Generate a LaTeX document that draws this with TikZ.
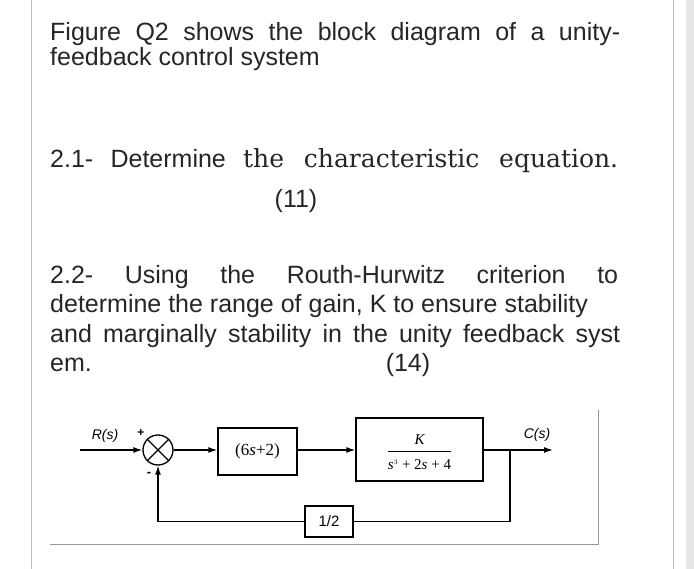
\documentclass[tikz,border=0pt]{standalone}
\usepackage{fontspec}
\setmainfont{Liberation Sans}
\newfontfamily\serifx{DejaVu Serif}
\newfontfamily\timesx{Liberation Serif}
\usetikzlibrary{arrows.meta}
\begin{document}
\begin{tikzpicture}[x=1pt,y=-1pt,
  txt/.style={anchor=base west,inner sep=0pt,font=\fontsize{25}{28}\selectfont,text=black!85},
  blk/.style={draw,line width=1.3pt,inner sep=0pt},
  sig/.style={line width=1.3pt,-{Latex[length=9pt,width=6pt]}},
  lbl/.style={font=\fontsize{13}{15}\selectfont,inner sep=0pt}]
\useasboundingbox (0,0) rectangle (694,569);
\fill[white] (0,0) rectangle (694,569);
\draw[black!25] (31,0) -- (31,569);
\draw[black!25] (673,0) -- (673,569);
\fill[black!10] (686,0) rectangle (694,569);
% text
\node[txt] (l1) at (50,41) {\makebox[570pt][s]{Figure Q2 shows the block diagram of a unity-}};
\node[txt] (l2) at (50,66) {feedback control system};
\node[txt] (l3) at (50,168) {\makebox[568pt][s]{2.1- Determine {\serifx the characteristic equation.}}};
\node[txt,anchor=base] (l4) at (296,208) {(11)};
\node[txt] (l5) at (50,284) {\makebox[568pt][s]{2.2- Using the Routh-Hurwitz criterion to}};
\node[txt] (l6) at (50,313) {determine the range of gain, K to ensure stability};
\node[txt] (l7) at (50,343) {\makebox[570pt][s]{and marginally stability in the unity feedback syst}};
\node[txt] (l8) at (50,372) {em.};
\node[txt,anchor=base] (l9) at (408,372) {(14)};
% diagram
\draw[black!40] (50,544) -- (598,544) -- (598,410);
\coordinate (in) at (80,450);
\node[draw,line width=1.3pt,circle,minimum size=30pt,inner sep=0pt] (sum) at (158,450) {};
\draw[line width=1.3pt] (sum.north west) -- (sum.south east) (sum.north east) -- (sum.south west);
\node[blk,minimum width=79pt,minimum height=47pt] (g1) at (257.5,451.5) {\timesx\fontsize{17}{19}\selectfont (6\textit{s}+2)};
\node[blk,minimum width=127pt,minimum height=63pt] (g2) at (419.5,449.5) {};
\node[lbl] (num) at (419.5,440) {\timesx\itshape\fontsize{15}{17}\selectfont K};
\draw[line width=0.8pt] (388,451) -- (451,451);
\node[lbl] (den) at (419.5,465) {\timesx\fontsize{15}{17}\selectfont \textit{s}$^{\scriptscriptstyle 3}$ + 2\textit{s} + 4};
\node[blk,minimum width=48pt,minimum height=31pt] (h) at (329,521.5) {\fontsize{15}{17}\selectfont 1/2};
\coordinate (br) at (510,450);
\coordinate (out) at (553,450);
\draw[sig] (in) -- (sum.west);
\draw[sig] (sum.east) -- (g1.west |- sum.east);
\draw[sig] (g1.east |- sum.east) -- (g2.west |- sum.east);
\draw[sig] (g2.east |- br) -- (out);
\draw[line width=1.3pt] (br) |- (h.east);
\draw[sig] (h.west) -| (sum.south);
\node[lbl,font=\itshape\fontsize{14}{16}\selectfont] (r) at (105,436) {R(s)};
\node[lbl,font=\itshape\fontsize{14}{16}\selectfont] (c) at (537,435) {C(s)};
\node[lbl,font=\bfseries\fontsize{12}{12}\selectfont] (p) at (141,433) {+};
\node[lbl,font=\bfseries\fontsize{13}{12}\selectfont] (m) at (149,474) {-};
\end{tikzpicture}
\end{document}
